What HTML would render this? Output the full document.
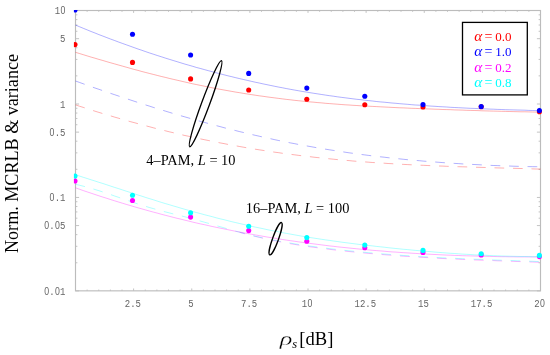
<!DOCTYPE html>
<html><head><meta charset="utf-8"><title>Norm. MCRLB &amp; variance</title>
<style>html,body{margin:0;padding:0;background:#fff}svg{display:block}.t{font-family:"Liberation Mono",monospace;font-size:11px;fill:#666}.z{font-family:"Liberation Sans",sans-serif;font-size:10.7px}.s{font-family:"Liberation Serif",serif}</style></head><body>
<svg width="550" height="355" viewBox="0 0 550 355">
<rect width="550" height="355" fill="#fff"/>
<defs><clipPath id="c"><rect x="73.9" y="10.0" width="468.1" height="281.35"/></clipPath></defs>
<path d="M75.50,290.85 v-2.4 M75.50,10.5 v2.4 M87.12,290.85 v-1.3 M87.12,10.5 v1.3 M98.75,290.85 v-1.3 M98.75,10.5 v1.3 M110.38,290.85 v-1.3 M110.38,10.5 v1.3 M122.00,290.85 v-1.3 M122.00,10.5 v1.3 M133.62,290.85 v-2.4 M133.62,10.5 v2.4 M145.25,290.85 v-1.3 M145.25,10.5 v1.3 M156.88,290.85 v-1.3 M156.88,10.5 v1.3 M168.50,290.85 v-1.3 M168.50,10.5 v1.3 M180.12,290.85 v-1.3 M180.12,10.5 v1.3 M191.75,290.85 v-2.4 M191.75,10.5 v2.4 M203.38,290.85 v-1.3 M203.38,10.5 v1.3 M215.00,290.85 v-1.3 M215.00,10.5 v1.3 M226.62,290.85 v-1.3 M226.62,10.5 v1.3 M238.25,290.85 v-1.3 M238.25,10.5 v1.3 M249.88,290.85 v-2.4 M249.88,10.5 v2.4 M261.50,290.85 v-1.3 M261.50,10.5 v1.3 M273.12,290.85 v-1.3 M273.12,10.5 v1.3 M284.75,290.85 v-1.3 M284.75,10.5 v1.3 M296.38,290.85 v-1.3 M296.38,10.5 v1.3 M308.00,290.85 v-2.4 M308.00,10.5 v2.4 M319.62,290.85 v-1.3 M319.62,10.5 v1.3 M331.25,290.85 v-1.3 M331.25,10.5 v1.3 M342.88,290.85 v-1.3 M342.88,10.5 v1.3 M354.50,290.85 v-1.3 M354.50,10.5 v1.3 M366.12,290.85 v-2.4 M366.12,10.5 v2.4 M377.75,290.85 v-1.3 M377.75,10.5 v1.3 M389.38,290.85 v-1.3 M389.38,10.5 v1.3 M401.00,290.85 v-1.3 M401.00,10.5 v1.3 M412.62,290.85 v-1.3 M412.62,10.5 v1.3 M424.25,290.85 v-2.4 M424.25,10.5 v2.4 M435.88,290.85 v-1.3 M435.88,10.5 v1.3 M447.50,290.85 v-1.3 M447.50,10.5 v1.3 M459.12,290.85 v-1.3 M459.12,10.5 v1.3 M470.75,290.85 v-1.3 M470.75,10.5 v1.3 M482.38,290.85 v-2.4 M482.38,10.5 v2.4 M494.00,290.85 v-1.3 M494.00,10.5 v1.3 M505.62,290.85 v-1.3 M505.62,10.5 v1.3 M517.25,290.85 v-1.3 M517.25,10.5 v1.3 M528.88,290.85 v-1.3 M528.88,10.5 v1.3 M540.50,290.85 v-2.4 M540.50,10.5 v2.4 M75.5,290.90 h3.6 M540.5,290.90 h-3.6 M75.5,262.77 h1.9 M540.5,262.77 h-1.9 M75.5,246.31 h1.9 M540.5,246.31 h-1.9 M75.5,234.64 h1.9 M540.5,234.64 h-1.9 M75.5,225.58 h3.6 M540.5,225.58 h-3.6 M75.5,218.18 h1.9 M540.5,218.18 h-1.9 M75.5,211.93 h1.9 M540.5,211.93 h-1.9 M75.5,206.51 h1.9 M540.5,206.51 h-1.9 M75.5,201.73 h1.9 M540.5,201.73 h-1.9 M75.5,197.45 h3.6 M540.5,197.45 h-3.6 M75.5,169.32 h1.9 M540.5,169.32 h-1.9 M75.5,152.86 h1.9 M540.5,152.86 h-1.9 M75.5,141.19 h1.9 M540.5,141.19 h-1.9 M75.5,132.13 h3.6 M540.5,132.13 h-3.6 M75.5,124.73 h1.9 M540.5,124.73 h-1.9 M75.5,118.48 h1.9 M540.5,118.48 h-1.9 M75.5,113.06 h1.9 M540.5,113.06 h-1.9 M75.5,108.28 h1.9 M540.5,108.28 h-1.9 M75.5,104.00 h3.6 M540.5,104.00 h-3.6 M75.5,75.87 h1.9 M540.5,75.87 h-1.9 M75.5,59.41 h1.9 M540.5,59.41 h-1.9 M75.5,47.74 h1.9 M540.5,47.74 h-1.9 M75.5,38.68 h3.6 M540.5,38.68 h-3.6 M75.5,31.28 h1.9 M540.5,31.28 h-1.9 M75.5,25.03 h1.9 M540.5,25.03 h-1.9 M75.5,19.61 h1.9 M540.5,19.61 h-1.9 M75.5,14.83 h1.9 M540.5,14.83 h-1.9" fill="none" stroke="#c4c4c4" stroke-width="1"/>
<rect x="75.5" y="10.5" width="465.0" height="280.35" fill="none" stroke="#bcbcbc" stroke-width="1.15"/>
<text class="t" transform="translate(140.92 307.10) scale(0.818 1)" text-anchor="middle" x="-16.50 -9.90 -3.30">2.5</text>
<text class="t" transform="translate(193.65 307.10) scale(0.818 1)" text-anchor="middle" x="-3.30">5</text>
<text class="t" transform="translate(257.18 307.10) scale(0.818 1)" text-anchor="middle" x="-16.50 -9.90 -3.30">7.5</text>
<text class="t" transform="translate(312.60 307.10) scale(0.818 1)" text-anchor="middle" x="-9.90 -3.30">1<tspan class="z">0</tspan></text>
<text class="t" transform="translate(376.12 307.10) scale(0.818 1)" text-anchor="middle" x="-23.10 -16.50 -9.90 -3.30">12.5</text>
<text class="t" transform="translate(428.85 307.10) scale(0.818 1)" text-anchor="middle" x="-9.90 -3.30">15</text>
<text class="t" transform="translate(492.38 307.10) scale(0.818 1)" text-anchor="middle" x="-23.10 -16.50 -9.90 -3.30">17.5</text>
<text class="t" transform="translate(545.10 307.10) scale(0.818 1)" text-anchor="middle" x="-9.90 -3.30">2<tspan class="z">0</tspan></text>
<text class="t" transform="translate(65.50 14.25) scale(0.818 1)" text-anchor="middle" x="-9.90 -3.30">1<tspan class="z">0</tspan></text>
<text class="t" transform="translate(65.50 42.38) scale(0.818 1)" text-anchor="middle" x="-3.30">5</text>
<text class="t" transform="translate(65.50 107.70) scale(0.818 1)" text-anchor="middle" x="-3.30">1</text>
<text class="t" transform="translate(65.50 135.83) scale(0.818 1)" text-anchor="middle" x="-16.50 -9.90 -3.30"><tspan class="z">0</tspan>.5</text>
<text class="t" transform="translate(65.50 201.15) scale(0.818 1)" text-anchor="middle" x="-16.50 -9.90 -3.30"><tspan class="z">0</tspan>.1</text>
<text class="t" transform="translate(65.50 229.28) scale(0.818 1)" text-anchor="middle" x="-23.10 -16.50 -9.90 -3.30"><tspan class="z">0</tspan>.<tspan class="z">0</tspan>5</text>
<text class="t" transform="translate(65.50 294.60) scale(0.818 1)" text-anchor="middle" x="-23.10 -16.50 -9.90 -3.30"><tspan class="z">0</tspan>.<tspan class="z">0</tspan>1</text>
<g clip-path="url(#c)" fill="none" stroke-width="0.5" stroke-opacity="0.62">
<path d="M75.5,104.9 L79.4,106.2 L83.3,107.4 L87.2,108.7 L91.1,109.9 L95.0,111.2 L98.9,112.4 L102.9,113.6 L106.8,114.7 L110.7,115.9 L114.6,117.1 L118.5,118.2 L122.4,119.3 L126.3,120.5 L130.2,121.6 L134.1,122.6 L138.0,123.7 L141.9,124.8 L145.8,125.8 L149.7,126.8 L153.7,127.9 L157.6,128.9 L161.5,129.8 L165.4,130.8 L169.3,131.8 L173.2,132.7 L177.1,133.6 L181.0,134.6 L184.9,135.5 L188.8,136.3 L192.7,137.2 L196.6,138.1 L200.5,138.9 L204.4,139.7 L208.4,140.5 L212.3,141.3 L216.2,142.1 L220.1,142.9 L224.0,143.6 L227.9,144.4 L231.8,145.1 L235.7,145.8 L239.6,146.5 L243.5,147.2 L247.4,147.9 L251.3,148.5 L255.2,149.2 L259.2,149.8 L263.1,150.4 L267.0,151.0 L270.9,151.6 L274.8,152.2 L278.7,152.7 L282.6,153.3 L286.5,153.8 L290.4,154.3 L294.3,154.8 L298.2,155.3 L302.1,155.8 L306.0,156.3 L310.0,156.7 L313.9,157.2 L317.8,157.6 L321.7,158.0 L325.6,158.4 L329.5,158.8 L333.4,159.2 L337.3,159.6 L341.2,160.0 L345.1,160.3 L349.0,160.6 L352.9,161.0 L356.8,161.3 L360.8,161.6 L364.7,161.9 L368.6,162.2 L372.5,162.5 L376.4,162.7 L380.3,163.0 L384.2,163.2 L388.1,163.5 L392.0,163.7 L395.9,164.0 L399.8,164.2 L403.7,164.4 L407.6,164.6 L411.6,164.8 L415.5,165.0 L419.4,165.2 L423.3,165.3 L427.2,165.5 L431.1,165.7 L435.0,165.8 L438.9,166.0 L442.8,166.1 L446.7,166.3 L450.6,166.4 L454.5,166.6 L458.4,166.7 L462.3,166.8 L466.3,166.9 L470.2,167.1 L474.1,167.2 L478.0,167.3 L481.9,167.4 L485.8,167.5 L489.7,167.6 L493.6,167.8 L497.5,167.9 L501.4,168.0 L505.3,168.1 L509.2,168.2 L513.1,168.3 L517.1,168.4 L521.0,168.5 L524.9,168.6 L528.8,168.7 L532.7,168.9 L536.6,169.0 L540.5,169.1" stroke="#ff0000" stroke-dasharray="9.7 8.8" stroke-dashoffset="0"/>
<path d="M75.5,81.0 L79.4,82.4 L83.3,83.8 L87.2,85.2 L91.1,86.6 L95.0,88.0 L98.9,89.3 L102.9,90.7 L106.8,92.0 L110.7,93.4 L114.6,94.7 L118.5,96.0 L122.4,97.3 L126.3,98.6 L130.2,99.9 L134.1,101.2 L138.0,102.5 L141.9,103.8 L145.8,105.0 L149.7,106.2 L153.7,107.5 L157.6,108.7 L161.5,109.9 L165.4,111.1 L169.3,112.3 L173.2,113.5 L177.1,114.6 L181.0,115.8 L184.9,116.9 L188.8,118.0 L192.7,119.2 L196.6,120.3 L200.5,121.4 L204.4,122.4 L208.4,123.5 L212.3,124.6 L216.2,125.6 L220.1,126.6 L224.0,127.7 L227.9,128.7 L231.8,129.7 L235.7,130.6 L239.6,131.6 L243.5,132.5 L247.4,133.5 L251.3,134.4 L255.2,135.3 L259.2,136.2 L263.1,137.1 L267.0,138.0 L270.9,138.8 L274.8,139.7 L278.7,140.5 L282.6,141.3 L286.5,142.1 L290.4,142.9 L294.3,143.6 L298.2,144.4 L302.1,145.1 L306.0,145.8 L310.0,146.5 L313.9,147.2 L317.8,147.9 L321.7,148.5 L325.6,149.2 L329.5,149.8 L333.4,150.4 L337.3,151.0 L341.2,151.6 L345.1,152.2 L349.0,152.8 L352.9,153.3 L356.8,153.8 L360.8,154.4 L364.7,154.9 L368.6,155.4 L372.5,155.9 L376.4,156.3 L380.3,156.8 L384.2,157.2 L388.1,157.7 L392.0,158.1 L395.9,158.5 L399.8,158.9 L403.7,159.3 L407.6,159.7 L411.6,160.0 L415.5,160.4 L419.4,160.7 L423.3,161.1 L427.2,161.4 L431.1,161.7 L435.0,162.0 L438.9,162.3 L442.8,162.6 L446.7,162.9 L450.6,163.1 L454.5,163.4 L458.4,163.6 L462.3,163.9 L466.3,164.1 L470.2,164.3 L474.1,164.5 L478.0,164.7 L481.9,164.9 L485.8,165.1 L489.7,165.3 L493.6,165.5 L497.5,165.6 L501.4,165.8 L505.3,165.9 L509.2,166.0 L513.1,166.2 L517.1,166.3 L521.0,166.4 L524.9,166.5 L528.8,166.6 L532.7,166.7 L536.6,166.7 L540.5,166.8" stroke="#0000ff" stroke-dasharray="9.7 8.8" stroke-dashoffset="0"/>
<path d="M239.6,232.3 L243.5,233.4 L247.4,234.4 L251.3,235.4 L255.2,236.4 L259.2,237.3 L263.1,238.2 L267.0,239.1 L270.9,239.9 L274.8,240.7 L278.7,241.5 L282.6,242.3 L286.5,243.0 L290.4,243.7 L294.3,244.3 L298.2,245.0 L302.1,245.6 L306.0,246.2 L310.0,246.8 L313.9,247.3 L317.8,247.8 L321.7,248.3 L325.6,248.8 L329.5,249.3 L333.4,249.8 L337.3,250.2 L341.2,250.7 L345.1,251.1 L349.0,251.5 L352.9,251.9 L356.8,252.3 L360.8,252.7 L364.7,253.0 L368.6,253.4 L372.5,253.7 L376.4,254.1 L380.3,254.4 L384.2,254.7 L388.1,255.0 L392.0,255.3 L395.9,255.6 L399.8,255.9 L403.7,256.2 L407.6,256.4 L411.6,256.7 L415.5,256.9 L419.4,257.2 L423.3,257.4 L427.2,257.6 L431.1,257.8 L435.0,258.1 L438.9,258.3 L442.8,258.5 L446.7,258.7 L450.6,258.8 L454.5,259.0 L458.4,259.2 L462.3,259.4 L466.3,259.5 L470.2,259.7 L474.1,259.9 L478.0,260.0 L481.9,260.2 L485.8,260.3 L489.7,260.5 L493.6,260.6 L497.5,260.8 L501.4,260.9 L505.3,261.1 L509.2,261.2 L513.1,261.3 L517.1,261.5 L521.0,261.6 L524.9,261.8 L528.8,261.9 L532.7,262.0 L536.6,262.2 L540.5,262.3" stroke="#ff00ff" stroke-dasharray="9.7 8.8" stroke-dashoffset="4"/>
<path d="M75.5,184.3 L79.4,185.2 L83.3,186.2 L87.2,187.2 L91.1,188.3 L95.0,189.5 L98.9,190.7 L102.9,192.0 L106.8,193.3 L110.7,194.6 L114.6,196.0 L118.5,197.3 L122.4,198.7 L126.3,200.0 L130.2,201.4 L134.1,202.7 L138.0,204.0 L141.9,205.2 L145.8,206.4 L149.7,207.6 L153.7,208.7 L157.6,209.8 L161.5,210.9 L165.4,211.9 L169.3,212.9 L173.2,213.9 L177.1,214.9 L181.0,215.8 L184.9,216.8 L188.8,217.9 L192.7,218.9 L196.6,220.0 L200.5,221.1 L204.4,222.2 L208.4,223.3 L212.3,224.4 L216.2,225.6 L220.1,226.7 L224.0,227.8 L227.9,229.0 L231.8,230.1 L235.7,231.2 L239.6,232.2 L243.5,233.3 L247.4,234.3 L251.3,235.3 L255.2,236.2 L259.2,237.1 L263.1,238.0 L267.0,238.8 L270.9,239.6 L274.8,240.3 L278.7,241.1 L282.6,241.8 L286.5,242.5 L290.4,243.1 L294.3,243.8 L298.2,244.4 L302.1,245.0 L306.0,245.5 L310.0,246.1 L313.9,246.6 L317.8,247.1 L321.7,247.6 L325.6,248.1 L329.5,248.6 L333.4,249.1 L337.3,249.5 L341.2,250.0 L345.1,250.4 L349.0,250.8 L352.9,251.2 L356.8,251.6 L360.8,252.0 L364.7,252.3 L368.6,252.7 L372.5,253.0 L376.4,253.4 L380.3,253.7 L384.2,254.0 L388.1,254.3 L392.0,254.6 L395.9,254.9 L399.8,255.2 L403.7,255.5 L407.6,255.7 L411.6,256.0 L415.5,256.2 L419.4,256.5 L423.3,256.7 L427.2,256.9 L431.1,257.1 L435.0,257.4 L438.9,257.6 L442.8,257.8 L446.7,258.0 L450.6,258.1 L454.5,258.3 L458.4,258.5 L462.3,258.7 L466.3,258.8 L470.2,259.0 L474.1,259.2 L478.0,259.3 L481.9,259.5 L485.8,259.6 L489.7,259.8 L493.6,259.9 L497.5,260.1 L501.4,260.2 L505.3,260.4 L509.2,260.5 L513.1,260.6 L517.1,260.8 L521.0,260.9 L524.9,261.1 L528.8,261.2 L532.7,261.3 L536.6,261.5 L540.5,261.6" stroke="#00ffff" stroke-dasharray="9.7 8.8" stroke-dashoffset="0"/>
<path d="M75.5,52.3 L79.4,53.5 L83.3,54.7 L87.2,55.9 L91.1,57.1 L95.0,58.2 L98.9,59.4 L102.9,60.5 L106.8,61.7 L110.7,62.8 L114.6,63.9 L118.5,65.0 L122.4,66.1 L126.3,67.2 L130.2,68.3 L134.1,69.4 L138.0,70.4 L141.9,71.5 L145.8,72.5 L149.7,73.5 L153.7,74.5 L157.6,75.5 L161.5,76.5 L165.4,77.4 L169.3,78.4 L173.2,79.3 L177.1,80.2 L181.0,81.1 L184.9,82.0 L188.8,82.9 L192.7,83.8 L196.6,84.6 L200.5,85.4 L204.4,86.2 L208.4,87.0 L212.3,87.8 L216.2,88.6 L220.1,89.3 L224.0,90.0 L227.9,90.7 L231.8,91.4 L235.7,92.1 L239.6,92.7 L243.5,93.4 L247.4,94.0 L251.3,94.6 L255.2,95.2 L259.2,95.8 L263.1,96.3 L267.0,96.9 L270.9,97.4 L274.8,97.9 L278.7,98.4 L282.6,98.9 L286.5,99.4 L290.4,99.8 L294.3,100.3 L298.2,100.7 L302.1,101.1 L306.0,101.5 L310.0,101.9 L313.9,102.2 L317.8,102.6 L321.7,102.9 L325.6,103.3 L329.5,103.6 L333.4,103.9 L337.3,104.2 L341.2,104.5 L345.1,104.8 L349.0,105.0 L352.9,105.3 L356.8,105.5 L360.8,105.8 L364.7,106.0 L368.6,106.2 L372.5,106.4 L376.4,106.6 L380.3,106.8 L384.2,107.0 L388.1,107.2 L392.0,107.4 L395.9,107.6 L399.8,107.8 L403.7,107.9 L407.6,108.1 L411.6,108.3 L415.5,108.4 L419.4,108.6 L423.3,108.7 L427.2,108.9 L431.1,109.0 L435.0,109.2 L438.9,109.3 L442.8,109.5 L446.7,109.6 L450.6,109.7 L454.5,109.9 L458.4,110.0 L462.3,110.1 L466.3,110.3 L470.2,110.4 L474.1,110.5 L478.0,110.6 L481.9,110.8 L485.8,110.9 L489.7,111.0 L493.6,111.1 L497.5,111.2 L501.4,111.3 L505.3,111.4 L509.2,111.5 L513.1,111.6 L517.1,111.7 L521.0,111.8 L524.9,111.8 L528.8,111.9 L532.7,112.0 L536.6,112.1 L540.5,112.1" stroke="#ff0000"/>
<path d="M75.5,25.1 L79.4,26.7 L83.3,28.3 L87.2,29.9 L91.1,31.5 L95.0,33.0 L98.9,34.6 L102.9,36.1 L106.8,37.6 L110.7,39.1 L114.6,40.5 L118.5,42.0 L122.4,43.4 L126.3,44.8 L130.2,46.2 L134.1,47.6 L138.0,49.0 L141.9,50.3 L145.8,51.7 L149.7,53.0 L153.7,54.3 L157.6,55.6 L161.5,56.8 L165.4,58.1 L169.3,59.3 L173.2,60.5 L177.1,61.7 L181.0,62.9 L184.9,64.1 L188.8,65.2 L192.7,66.3 L196.6,67.5 L200.5,68.5 L204.4,69.6 L208.4,70.7 L212.3,71.7 L216.2,72.8 L220.1,73.8 L224.0,74.8 L227.9,75.8 L231.8,76.7 L235.7,77.7 L239.6,78.6 L243.5,79.5 L247.4,80.4 L251.3,81.3 L255.2,82.2 L259.2,83.0 L263.1,83.9 L267.0,84.7 L270.9,85.5 L274.8,86.3 L278.7,87.1 L282.6,87.8 L286.5,88.6 L290.4,89.3 L294.3,90.0 L298.2,90.7 L302.1,91.4 L306.0,92.0 L310.0,92.7 L313.9,93.3 L317.8,93.9 L321.7,94.5 L325.6,95.1 L329.5,95.7 L333.4,96.2 L337.3,96.8 L341.2,97.3 L345.1,97.8 L349.0,98.3 L352.9,98.8 L356.8,99.3 L360.8,99.7 L364.7,100.2 L368.6,100.6 L372.5,101.0 L376.4,101.5 L380.3,101.9 L384.2,102.2 L388.1,102.6 L392.0,103.0 L395.9,103.3 L399.8,103.7 L403.7,104.0 L407.6,104.3 L411.6,104.7 L415.5,105.0 L419.4,105.2 L423.3,105.5 L427.2,105.8 L431.1,106.1 L435.0,106.3 L438.9,106.6 L442.8,106.8 L446.7,107.0 L450.6,107.3 L454.5,107.5 L458.4,107.7 L462.3,107.9 L466.3,108.1 L470.2,108.3 L474.1,108.4 L478.0,108.6 L481.9,108.8 L485.8,108.9 L489.7,109.1 L493.6,109.2 L497.5,109.4 L501.4,109.5 L505.3,109.7 L509.2,109.8 L513.1,109.9 L517.1,110.0 L521.0,110.1 L524.9,110.2 L528.8,110.4 L532.7,110.5 L536.6,110.6 L540.5,110.7" stroke="#0000ff"/>
<path d="M75.5,187.8 L79.4,189.2 L83.3,190.6 L87.2,191.9 L91.1,193.2 L95.0,194.5 L98.9,195.8 L102.9,197.1 L106.8,198.3 L110.7,199.6 L114.6,200.8 L118.5,202.0 L122.4,203.2 L126.3,204.4 L130.2,205.5 L134.1,206.7 L138.0,207.8 L141.9,208.9 L145.8,210.0 L149.7,211.1 L153.7,212.2 L157.6,213.2 L161.5,214.3 L165.4,215.3 L169.3,216.3 L173.2,217.3 L177.1,218.3 L181.0,219.2 L184.9,220.2 L188.8,221.1 L192.7,222.1 L196.6,223.0 L200.5,223.9 L204.4,224.7 L208.4,225.6 L212.3,226.5 L216.2,227.3 L220.1,228.1 L224.0,228.9 L227.9,229.7 L231.8,230.5 L235.7,231.3 L239.6,232.0 L243.5,232.8 L247.4,233.5 L251.3,234.2 L255.2,234.9 L259.2,235.6 L263.1,236.3 L267.0,237.0 L270.9,237.6 L274.8,238.2 L278.7,238.9 L282.6,239.5 L286.5,240.1 L290.4,240.7 L294.3,241.2 L298.2,241.8 L302.1,242.3 L306.0,242.9 L310.0,243.4 L313.9,243.9 L317.8,244.4 L321.7,244.9 L325.6,245.4 L329.5,245.9 L333.4,246.3 L337.3,246.8 L341.2,247.2 L345.1,247.6 L349.0,248.0 L352.9,248.4 L356.8,248.8 L360.8,249.2 L364.7,249.6 L368.6,249.9 L372.5,250.3 L376.4,250.6 L380.3,250.9 L384.2,251.2 L388.1,251.6 L392.0,251.9 L395.9,252.1 L399.8,252.4 L403.7,252.7 L407.6,252.9 L411.6,253.2 L415.5,253.4 L419.4,253.7 L423.3,253.9 L427.2,254.1 L431.1,254.3 L435.0,254.5 L438.9,254.7 L442.8,254.9 L446.7,255.1 L450.6,255.2 L454.5,255.4 L458.4,255.5 L462.3,255.7 L466.3,255.8 L470.2,255.9 L474.1,256.0 L478.0,256.1 L481.9,256.2 L485.8,256.3 L489.7,256.4 L493.6,256.5 L497.5,256.6 L501.4,256.7 L505.3,256.7 L509.2,256.8 L513.1,256.8 L517.1,256.9 L521.0,256.9 L524.9,256.9 L528.8,256.9 L532.7,257.0 L536.6,257.0 L540.5,257.0" stroke="#ff00ff"/>
<path d="M75.5,174.8 L79.4,176.0 L83.3,177.3 L87.2,178.5 L91.1,179.8 L95.0,181.0 L98.9,182.3 L102.9,183.5 L106.8,184.8 L110.7,186.1 L114.6,187.4 L118.5,188.6 L122.4,189.9 L126.3,191.2 L130.2,192.4 L134.1,193.7 L138.0,195.0 L141.9,196.2 L145.8,197.5 L149.7,198.7 L153.7,199.9 L157.6,201.2 L161.5,202.4 L165.4,203.6 L169.3,204.7 L173.2,205.9 L177.1,207.0 L181.0,208.2 L184.9,209.3 L188.8,210.4 L192.7,211.5 L196.6,212.6 L200.5,213.6 L204.4,214.7 L208.4,215.7 L212.3,216.7 L216.2,217.8 L220.1,218.8 L224.0,219.7 L227.9,220.7 L231.8,221.7 L235.7,222.6 L239.6,223.5 L243.5,224.4 L247.4,225.3 L251.3,226.2 L255.2,227.1 L259.2,227.9 L263.1,228.7 L267.0,229.6 L270.9,230.4 L274.8,231.1 L278.7,231.9 L282.6,232.7 L286.5,233.4 L290.4,234.1 L294.3,234.8 L298.2,235.5 L302.1,236.2 L306.0,236.8 L310.0,237.5 L313.9,238.1 L317.8,238.7 L321.7,239.3 L325.6,239.9 L329.5,240.4 L333.4,241.0 L337.3,241.5 L341.2,242.1 L345.1,242.6 L349.0,243.1 L352.9,243.6 L356.8,244.1 L360.8,244.6 L364.7,245.0 L368.6,245.5 L372.5,245.9 L376.4,246.4 L380.3,246.8 L384.2,247.2 L388.1,247.7 L392.0,248.1 L395.9,248.5 L399.8,248.9 L403.7,249.3 L407.6,249.6 L411.6,250.0 L415.5,250.4 L419.4,250.7 L423.3,251.1 L427.2,251.4 L431.1,251.7 L435.0,252.1 L438.9,252.4 L442.8,252.7 L446.7,253.0 L450.6,253.3 L454.5,253.5 L458.4,253.8 L462.3,254.1 L466.3,254.3 L470.2,254.5 L474.1,254.8 L478.0,255.0 L481.9,255.2 L485.8,255.3 L489.7,255.5 L493.6,255.7 L497.5,255.8 L501.4,256.0 L505.3,256.1 L509.2,256.2 L513.1,256.3 L517.1,256.4 L521.0,256.5 L524.9,256.5 L528.8,256.6 L532.7,256.6 L536.6,256.6 L540.5,256.6" stroke="#00ffff"/>
</g>
<g clip-path="url(#c)">
<circle cx="75.0" cy="44.6" r="2.55" fill="#ff0000"/>
<circle cx="132.5" cy="62.4" r="2.55" fill="#ff0000"/>
<circle cx="190.6" cy="78.9" r="2.55" fill="#ff0000"/>
<circle cx="248.7" cy="90.0" r="2.55" fill="#ff0000"/>
<circle cx="306.8" cy="99.3" r="2.55" fill="#ff0000"/>
<circle cx="364.8" cy="104.8" r="2.55" fill="#ff0000"/>
<circle cx="423.0" cy="107.0" r="2.55" fill="#ff0000"/>
<circle cx="481.2" cy="106.8" r="2.55" fill="#ff0000"/>
<circle cx="539.4" cy="111.8" r="2.55" fill="#ff0000"/>
<circle cx="75.0" cy="10.0" r="2.55" fill="#0000ff"/>
<circle cx="132.5" cy="34.3" r="2.55" fill="#0000ff"/>
<circle cx="190.6" cy="55.0" r="2.55" fill="#0000ff"/>
<circle cx="248.7" cy="73.4" r="2.55" fill="#0000ff"/>
<circle cx="306.8" cy="88.1" r="2.55" fill="#0000ff"/>
<circle cx="364.8" cy="96.3" r="2.55" fill="#0000ff"/>
<circle cx="423.0" cy="104.6" r="2.55" fill="#0000ff"/>
<circle cx="481.2" cy="106.5" r="2.55" fill="#0000ff"/>
<circle cx="539.4" cy="110.6" r="2.55" fill="#0000ff"/>
<circle cx="75.0" cy="181.0" r="2.55" fill="#ff00ff"/>
<circle cx="132.5" cy="200.5" r="2.55" fill="#ff00ff"/>
<circle cx="190.6" cy="217.1" r="2.55" fill="#ff00ff"/>
<circle cx="248.7" cy="230.6" r="2.55" fill="#ff00ff"/>
<circle cx="306.8" cy="241.2" r="2.55" fill="#ff00ff"/>
<circle cx="364.8" cy="247.8" r="2.55" fill="#ff00ff"/>
<circle cx="423.0" cy="252.5" r="2.55" fill="#ff00ff"/>
<circle cx="481.2" cy="255.0" r="2.55" fill="#ff00ff"/>
<circle cx="539.4" cy="256.6" r="2.55" fill="#ff00ff"/>
<circle cx="75.0" cy="176.0" r="2.55" fill="#00ffff"/>
<circle cx="132.5" cy="195.3" r="2.55" fill="#00ffff"/>
<circle cx="190.6" cy="212.7" r="2.55" fill="#00ffff"/>
<circle cx="248.7" cy="226.2" r="2.55" fill="#00ffff"/>
<circle cx="306.8" cy="237.6" r="2.55" fill="#00ffff"/>
<circle cx="364.8" cy="245.1" r="2.55" fill="#00ffff"/>
<circle cx="423.0" cy="250.4" r="2.55" fill="#00ffff"/>
<circle cx="481.2" cy="253.8" r="2.55" fill="#00ffff"/>
<circle cx="539.4" cy="255.4" r="2.55" fill="#00ffff"/>
</g>
<ellipse cx="205.6" cy="103.7" rx="4.0" ry="45.9" transform="rotate(20.3 205.6 103.7)" fill="none" stroke="#000" stroke-width="1.3"/>
<ellipse cx="275.6" cy="238.7" rx="2.95" ry="17.2" transform="rotate(20 275.6 238.7)" fill="none" stroke="#000" stroke-width="1.3"/>
<text class="s" x="146.3" y="164.5" font-size="14.4" fill="#000">4–PAM, <tspan font-style="italic">L</tspan> = 10</text>
<text class="s" x="245.8" y="212.7" font-size="14.4" fill="#000">16–PAM, <tspan font-style="italic">L</tspan> = 100</text>
<rect x="462.5" y="22.4" width="64.8" height="72.5" fill="#fff" stroke="#000" stroke-width="1.3"/>
<text class="s" font-size="13" fill="#ff0000" y="40.6"><tspan x="474.2" font-style="italic" font-size="15.2">α</tspan> <tspan x="484.4" font-size="14">=</tspan> <tspan x="495.3">0.0</tspan></text>
<text class="s" font-size="13" fill="#0000ff" y="56.0"><tspan x="474.2" font-style="italic" font-size="15.2">α</tspan> <tspan x="484.4" font-size="14">=</tspan> <tspan x="495.3">1.0</tspan></text>
<text class="s" font-size="13" fill="#ff00ff" y="71.5"><tspan x="474.2" font-style="italic" font-size="15.2">α</tspan> <tspan x="484.4" font-size="14">=</tspan> <tspan x="495.3">0.2</tspan></text>
<text class="s" font-size="13" fill="#00ffff" y="86.9"><tspan x="474.2" font-style="italic" font-size="15.2">α</tspan> <tspan x="484.4" font-size="14">=</tspan> <tspan x="495.3">0.8</tspan></text>
<text class="s" font-size="18.1" fill="#000" transform="translate(18.4 253.0) rotate(-90)">Norm. MCRLB &amp; variance</text>
<text class="s" font-size="19" font-style="italic" fill="#000" stroke="#fff" stroke-width="0.28" transform="translate(279.7 345.4) scale(1.38 1)">ρ</text>
<text class="s" font-size="18.3" fill="#000" y="345"><tspan x="292.3" font-style="italic" font-size="12.5" dy="2.8">s</tspan> <tspan x="299.3" dy="-2.8" font-size="18.6">[dB]</tspan></text>
</svg></body></html>
